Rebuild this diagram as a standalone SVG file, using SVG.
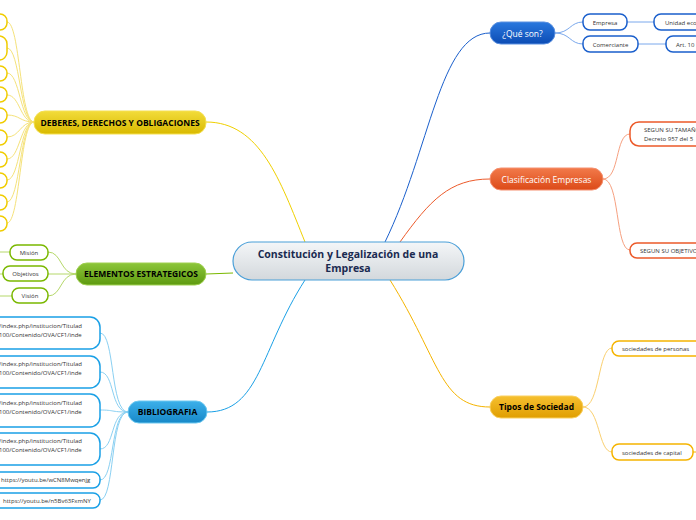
<svg xmlns="http://www.w3.org/2000/svg" width="696" height="520" viewBox="0 0 696 520">
<defs>
<linearGradient id="gc" x1="0" y1="0" x2="0" y2="1"><stop offset="0" stop-color="#f4f6f8"/><stop offset="1" stop-color="#d3d8dc"/></linearGradient>
<linearGradient id="gy" x1="0" y1="0" x2="0" y2="1"><stop offset="0" stop-color="#f2dc3a"/><stop offset="1" stop-color="#d9b900"/></linearGradient>
<linearGradient id="gg" x1="0" y1="0" x2="0" y2="1"><stop offset="0" stop-color="#8cc63a"/><stop offset="1" stop-color="#5e9a10"/></linearGradient>
<linearGradient id="gb" x1="0" y1="0" x2="0" y2="1"><stop offset="0" stop-color="#3cb0ea"/><stop offset="1" stop-color="#1788c8"/></linearGradient>
<linearGradient id="gq" x1="0" y1="0" x2="0" y2="1"><stop offset="0" stop-color="#2a78de"/><stop offset="1" stop-color="#0c4cb4"/></linearGradient>
<linearGradient id="go" x1="0" y1="0" x2="0" y2="1"><stop offset="0" stop-color="#f27a4a"/><stop offset="1" stop-color="#dc4a18"/></linearGradient>
<linearGradient id="gt" x1="0" y1="0" x2="0" y2="1"><stop offset="0" stop-color="#f6c030"/><stop offset="1" stop-color="#e09e00"/></linearGradient>
</defs>
<style>
text{font-family:"Open Sans","Liberation Sans",sans-serif}
.c{fill:none;stroke-width:1}
.m{font-size:8.5px;font-weight:bold;text-anchor:middle}
.s{font-size:6px;fill:#333;text-anchor:middle}
.sl{font-size:6px;fill:#333}
.ly rect{fill:#fff;stroke:#f0cc00;stroke-width:1.5}
.lg rect{fill:#fff;stroke:#7ab800;stroke-width:1.5}
.lb rect{fill:#fff;stroke:#1aa0e6;stroke-width:1.5}
.lq rect{fill:#fff;stroke:#1a5fcc;stroke-width:1.5}
.lo rect{fill:#fff;stroke:#ec5a2a;stroke-width:1.5}
.lt rect{fill:#fff;stroke:#f5b400;stroke-width:1.5}
</style>
<g id="connectors">
<path class="c" stroke="#f0d000" stroke-width="1.5" d="M305,242 C280,180 260,122 206,122"/>
<path class="c" stroke="#1a5fcc" stroke-width="1.5" d="M385,242 C430,150 440,33 490,33"/>
<path class="c" stroke="#ec5a2a" stroke-width="1.5" d="M400,242 C430,200 450,179 490,179"/>
<path class="c" stroke="#f5b400" stroke-width="1.5" d="M390,280 C440,360 440,407 490,407"/>
<path class="c" stroke="#1aa0e6" stroke-width="1.5" d="M305,280 C260,350 260,412 207,412"/>
<path class="c" stroke="#7ab800" stroke-width="1.5" d="M233,273 L206,274"/>
<g stroke="#f5e27a">
<path class="c" d="M34,122 C20,122 20,22 7,22"/><path class="c" d="M34,122 C20,122 20,48 7,48"/>
<path class="c" d="M34,122 C20,122 20,73 7,73"/><path class="c" d="M34,122 C20,122 20,95 7,95"/>
<path class="c" d="M34,122 C20,122 20,115 7,115"/><path class="c" d="M34,122 C20,122 20,137 7,137"/>
<path class="c" d="M34,122 C20,122 20,159 7,159"/><path class="c" d="M34,122 C20,122 20,180 7,180"/>
<path class="c" d="M34,122 C20,122 20,202 7,202"/><path class="c" d="M34,122 C20,122 20,223 7,223"/>
</g>
<g stroke="#b5d86a">
<path class="c" d="M76,274 C60,274 62,252 48,252"/><path class="c" d="M76,274 L48,274"/>
<path class="c" d="M76,274 C60,274 62,296 48,296"/>
<path class="c" d="M10,252 L0,252"/><path class="c" d="M3,274 L0,274"/><path class="c" d="M12,296 L0,296"/>
</g>
<g stroke="#8ad0f2">
<path class="c" d="M128,412 C110,412 115,333 100,333"/><path class="c" d="M128,412 C110,412 115,372 100,372"/>
<path class="c" d="M128,412 C110,412 115,410 100,410"/><path class="c" d="M128,412 C110,412 115,449 100,449"/>
<path class="c" d="M128,412 C110,412 115,480 100,480"/><path class="c" d="M128,412 C110,412 115,500 100,500"/>
</g>
<g stroke="#7aa8ec">
<path class="c" d="M555,33 C570,33 570,22 583,22"/><path class="c" d="M555,33 C570,33 570,44 583,44"/>
<path class="c" d="M627,22 L654,22"/><path class="c" d="M638,44 L666,44"/>
</g>
<g stroke="#f6a080">
<path class="c" d="M603,179 C620,179 615,134 630,134"/><path class="c" d="M603,179 C620,179 615,250 630,250"/>
</g>
<g stroke="#fad070">
<path class="c" d="M583,407 C600,407 598,348 612,348"/><path class="c" d="M583,407 C600,407 598,452 612,452"/>
<path class="c" d="M693,452 L696,452" stroke="#f5b400"/>
</g>
</g>
<g id="center"><rect x="233" y="242" width="231" height="38" rx="19" fill="url(#gc)" stroke="#4a9fd8" stroke-width="1.2"/>
<text x="348" y="258" font-size="10.5" font-weight="bold" fill="#1a2a50" text-anchor="middle">Constitución y Legalización de una</text>
<text x="348" y="272" font-size="10.5" font-weight="bold" fill="#1a2a50" text-anchor="middle">Empresa</text></g>
<g id="deberes"><rect x="34" y="111" width="172" height="23" rx="11" fill="url(#gy)" stroke="#f5e050"/><text class="m" x="120" y="125.5">DEBERES, DERECHOS Y OBLIGACIONES</text></g>
<g id="deberes-children" class="ly">
<rect x="-40" y="14" width="47" height="16" rx="7"/><rect x="-40" y="36" width="47" height="24" rx="8"/>
<rect x="-40" y="66" width="47" height="15" rx="7"/><rect x="-40" y="87" width="47" height="15" rx="7"/>
<rect x="-40" y="108" width="47" height="15" rx="7"/><rect x="-40" y="130" width="47" height="15" rx="7"/>
<rect x="-40" y="152" width="47" height="15" rx="7"/><rect x="-40" y="173" width="47" height="15" rx="7"/>
<rect x="-40" y="195" width="47" height="15" rx="7"/><rect x="-40" y="216" width="47" height="15" rx="7"/>
</g>
<g id="elementos"><rect x="76" y="263" width="130" height="22" rx="11" fill="url(#gg)" stroke="#a0d050"/><text class="m" x="141" y="277">ELEMENTOS ESTRATEGICOS</text></g>
<g id="mision" class="lg"><rect x="10" y="245" width="38" height="15" rx="7"/><text class="s" x="29" y="255">Misión</text></g>
<g id="objetivos" class="lg"><rect x="3" y="266" width="45" height="15" rx="7"/><text class="s" x="25.5" y="276">Objetivos</text></g>
<g id="vision" class="lg"><rect x="12" y="288" width="36" height="15" rx="7"/><text class="s" x="30" y="298">Visión</text></g>
<g id="biblio"><rect x="128" y="401" width="79" height="22" rx="11" fill="url(#gb)" stroke="#6cc8f0"/><text class="m" x="167.5" y="415">BIBLIOGRAFIA</text></g>
<g id="biblio-children" class="lb">
<rect x="-40" y="317" width="140" height="32" rx="10"/><text class="sl" x="-1" y="328">/index.php/institucion/Titulad</text><text class="sl" x="-1" y="337">100/Contenido/OVA/CF1/inde</text>
<rect x="-40" y="356" width="140" height="32" rx="10"/><text class="sl" x="-1" y="366">/index.php/institucion/Titulad</text><text class="sl" x="-1" y="375">100/Contenido/OVA/CF1/inde</text>
<rect x="-40" y="394" width="140" height="33" rx="10"/><text class="sl" x="-1" y="405">/index.php/institucion/Titulad</text><text class="sl" x="-1" y="414">100/Contenido/OVA/CF1/inde</text>
<rect x="-40" y="433" width="140" height="32" rx="10"/><text class="sl" x="-1" y="443">/index.php/institucion/Titulad</text><text class="sl" x="-1" y="452">100/Contenido/OVA/CF1/inde</text>
<rect x="-40" y="472" width="140" height="16" rx="7"/><text class="sl" x="1" y="482">https://youtu.be/wCN8Mwqenjg</text>
<rect x="-40" y="493" width="140" height="15" rx="7"/><text class="sl" x="3" y="503">https://youtu.be/n5Bv63FxmNY</text>
</g>
<g id="queson"><rect x="490" y="22" width="65" height="22" rx="11" fill="url(#gq)" stroke="#5a90e0"/><text x="522.5" y="36.5" font-size="8.5" fill="#fff" text-anchor="middle">¿Qué son?</text></g>
<g id="empresa" class="lq"><rect x="583" y="14" width="44" height="16" rx="7"/><text class="s" x="605" y="24.5">Empresa</text></g>
<g id="comerciante" class="lq"><rect x="583" y="36" width="55" height="16" rx="7"/><text class="s" x="610.5" y="46.5">Comerciante</text></g>
<g id="unidad" class="lq"><rect x="654" y="14" width="60" height="16" rx="7"/><text class="sl" x="665" y="24.5">Unidad eco</text></g>
<g id="art10" class="lq"><rect x="666" y="36" width="50" height="16" rx="7"/><text class="sl" x="676" y="46.5">Art. 10</text></g>
<g id="clasif"><rect x="490" y="168" width="113" height="22" rx="11" fill="url(#go)" stroke="#f59070"/><text x="546.5" y="182.5" font-size="8.5" fill="#fff" text-anchor="middle">Clasificación Empresas</text></g>
<g id="tamano" class="lo"><rect x="630" y="122" width="90" height="24" rx="9"/><text class="sl" x="644" y="132">SEGUN SU TAMAÑO</text><text class="sl" x="644" y="141">Decreto 957 del 5</text></g>
<g id="objetivo" class="lo"><rect x="630" y="243" width="90" height="15" rx="7"/><text class="sl" x="640" y="253">SEGUN SU OBJETIVO</text></g>
<g id="tipos"><rect x="490" y="396" width="93" height="22" rx="11" fill="url(#gt)" stroke="#fad060"/><text class="m" x="536.5" y="410">Tipos de Sociedad</text></g>
<g id="personas" class="lt"><rect x="612" y="341" width="100" height="15" rx="7"/><text class="sl" x="622" y="351">sociedades de personas</text></g>
<g id="capital" class="lt"><rect x="612" y="444" width="81" height="16" rx="7"/><text class="sl" x="622" y="454.5">sociedades de capital</text></g>
</svg>
